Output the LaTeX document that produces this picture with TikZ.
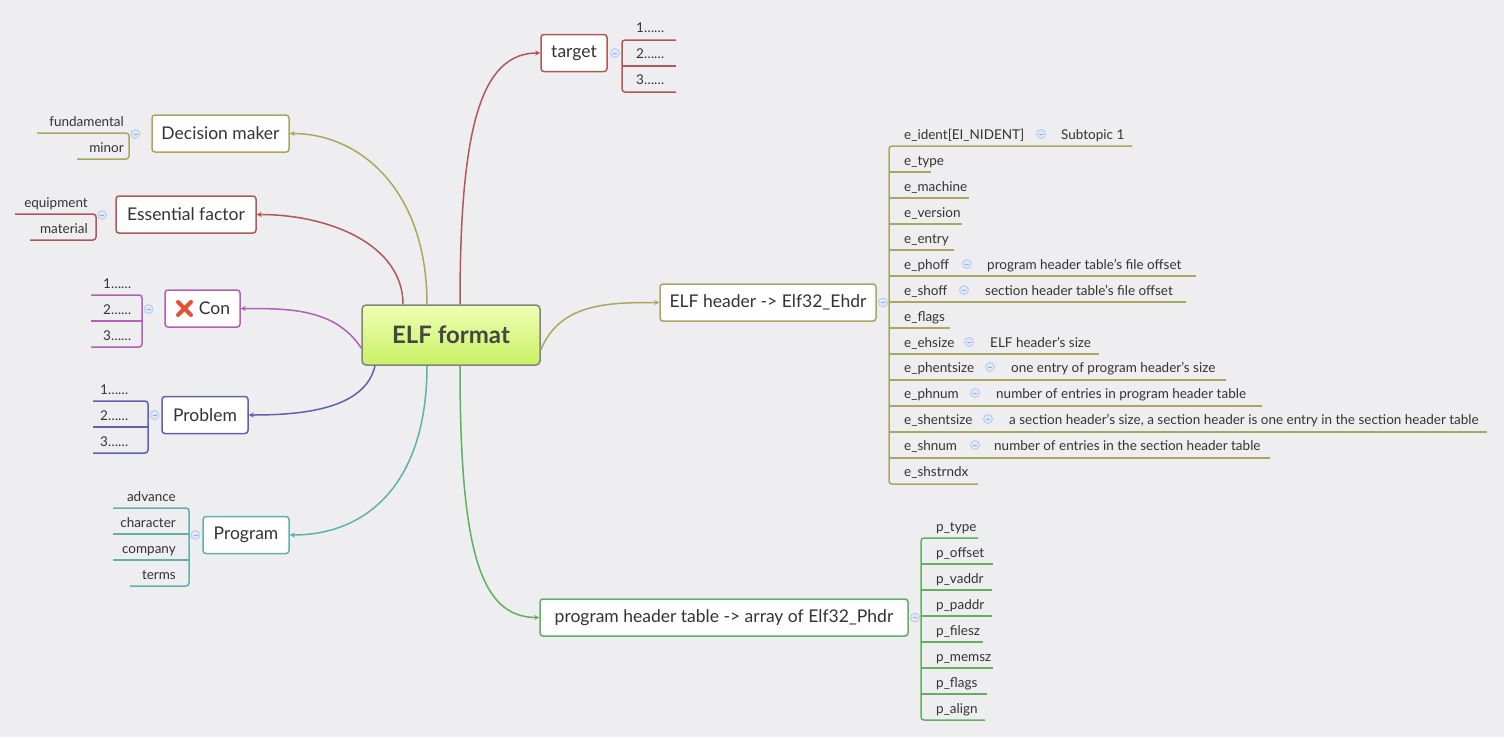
\documentclass[tikz,border=0pt]{standalone}
\usepackage{fontspec}
\setmainfont{Lato}
\usetikzlibrary{arrows.meta}
\definecolor{bg}{HTML}{EEEEF0}
\definecolor{olive}{HTML}{A8A860}
\definecolor{brick}{HTML}{B05858}
\definecolor{purp}{HTML}{B060B8}
\definecolor{blu}{HTML}{6060B0}
\definecolor{teal}{HTML}{60B0B0}
\definecolor{grn}{HTML}{60B060}
\definecolor{txt}{HTML}{333333}
\definecolor{xred}{HTML}{E65032}
\definecolor{foldd}{HTML}{A8C0E8}
\definecolor{foldf}{HTML}{DDE8F8}
\definecolor{foldm}{HTML}{96AADC}
\definecolor{cbord}{HTML}{828282}
\definecolor{ctop}{HTML}{F0FFB4}
\definecolor{cbot}{HTML}{C8F064}
\definecolor{ctxt}{HTML}{464646}
\tikzset{
  topic/.style={draw=#1, line width=1.5pt, rounded corners=3pt, fill=white, minimum height=37pt, inner xsep=0pt, font=\fontsize{17.5}{19}\selectfont, text=txt},
  item/.style={anchor=base west, inner sep=0pt, font=\fontsize{13.5}{15}\selectfont, text=txt},
  conn/.style={draw=#1, line width=1.5pt, -{Stealth[length=5pt,width=5pt]}},
  br/.style={draw=#1, line width=1.5pt, rounded corners=3pt},
  fold/.style={circle, draw=foldd, fill=foldf, line width=0.6pt, minimum size=9pt, inner sep=0pt, path picture={\draw[foldm, line width=0.6pt] ([xshift=-2pt]path picture bounding box.center) -- ([xshift=2pt]path picture bounding box.center);}}
}
\begin{document}
\begin{tikzpicture}[x=1pt,y=-1pt]
\fill[bg] (0,0) rectangle (1504,737);
\useasboundingbox (0,0) rectangle (1504,737);
% central
\node[draw=cbord, line width=1.5pt, rounded corners=4pt, top color=ctop, bottom color=cbot, minimum width=178pt, minimum height=60pt, font=\fontsize{24}{26}\selectfont\bfseries, text=ctxt] (c) at (451,335) {ELF format};
% topics
\node[topic=brick, minimum width=66pt] (t) at (574,53) {target};
\node[topic=olive, minimum width=137pt] (dm) at (220.5,133.5) {Decision maker};
\node[topic=brick, minimum width=140pt] (ef) at (186,214.5) {Essential factor};
\node[topic=purp, minimum width=75pt] (con) at (202.5,308.5) {\hspace{24pt}Con};
\node[topic=blu, minimum width=86pt] (pr) at (205,415) {Problem};
\node[topic=teal, minimum width=86pt] (pg) at (246,535) {Program};
\node[topic=olive, minimum width=216pt] (eh) at (768,302.5) {ELF header -> Elf32\_Ehdr};
\node[topic=grn, minimum width=368pt] (ph) at (724,617.5) {program header table -> array of Elf32\_Phdr};
% X icon
\draw[xred, line width=4pt, line cap=round] (178,302)--(191,315) (191,302)--(178,315);
% connectors
\coordinate (ct) at ([xshift=9pt]c.north);
\coordinate (cdm) at ([xshift=-24pt]c.north);
\coordinate (cef) at ([xshift=-48pt]c.north);
\coordinate (ccon) at ([yshift=-13pt]c.west);
\coordinate (cpr) at ([xshift=-76pt]c.south);
\coordinate (cpg) at ([xshift=-24pt]c.south);
\coordinate (ceh) at ([yshift=-15pt]c.east);
\coordinate (cph) at ([xshift=9pt]c.south);
\draw[conn=brick] (ct) .. controls (460,130) and (480,53) .. (t.west);
\draw[conn=olive] (cdm) .. controls (427,190) and (360,133.5) .. (dm.east);
\draw[conn=brick] (cef) .. controls (403,245) and (330,214.5) .. (ef.east);
\draw[conn=purp] (ccon) .. controls (335,308.5) and (290,308.5) .. (con.east);
\draw[conn=blu] (cpr) .. controls (365,410) and (300,415) .. (pr.east);
\draw[conn=teal] (cpg) .. controls (427,480) and (370,535) .. (pg.east);
\draw[conn=olive] (ceh) .. controls (560,302.5) and (610,302.5) .. (eh.west);
\draw[conn=grn] (cph) .. controls (460,550) and (480,617.5) .. (ph.west);
% target children
\draw[br=brick] (676,40) -- (622,40) -- (622,92) -- (676,92);
\draw[br=brick] (622,66) -- (676,66);
\node[item] (t1) at (636,32) {1……};
\node[item] (t2) at (636,58) {2……};
\node[item] (t3) at (636,84) {3……};
\node[fold] at (615,53) {};
% decision maker children
\draw[br=olive] (37,133) -- (129,133) -- (129,159) -- (77,159);
\node[item, anchor=base east] (d1) at (124,126) {fundamental};
\node[item, anchor=base east] (d2) at (124,152) {minor};
\node[fold] at (135.5,134) {};
% essential
\draw[br=brick] (15,214) -- (96,214) -- (96,240) -- (30,240);
\node[item, anchor=base east] (e1) at (88,207) {equipment};
\node[item, anchor=base east] (e2) at (88,233) {material};
\node[fold] at (102,215) {};
% con
\draw[br=purp] (91,295) -- (142,295) -- (142,347) -- (91,347);
\draw[br=purp] (91,321) -- (142,321);
\node[item] (c1) at (103,288) {1……};
\node[item] (c2) at (103,314) {2……};
\node[item] (c3) at (103,340) {3……};
\node[fold] at (148.5,309) {};
% problem
\draw[br=blu] (93,401) -- (148,401) -- (148,453) -- (93,453);
\draw[br=blu] (93,427) -- (148,427);
\node[item] (p1) at (100,394) {1……};
\node[item] (p2) at (100,420) {2……};
\node[item] (p3) at (100,446) {3……};
\node[fold] at (154.5,415) {};
% program
\draw[br=teal] (113,508) -- (189,508) -- (189,586) -- (130,586);
\draw[br=teal] (113,534) -- (189,534);
\draw[br=teal] (113,560) -- (189,560);
\node[item, anchor=base east] (g1) at (176,501) {advance};
\node[item, anchor=base east] (g2) at (176,527) {character};
\node[item, anchor=base east] (g3) at (176,553) {company};
\node[item, anchor=base east] (g4) at (176,579) {terms};
\node[fold] at (195.5,535) {};
% ELF header children
\draw[br=olive] (1132,146) -- (889,146) -- (889,484) -- (978,484);
\foreach \y/\e in {172/931,198/969,224/962,250/954,276/1196,302/1186,328/950,354/1099,380/1226,406/1262,432/1487,458/1270}
  \draw[olive, line width=1.5pt] (889,\y) -- (\e,\y);
\node[fold] at (883,302.5) {};
\foreach \n/\y/\t in {a/134/{e\_ident[EI\_NIDENT]},b/160/e\_type,cc/186/e\_machine,d/212/e\_version,e/238/e\_entry,f/264/e\_phoff,g/290/e\_shoff,h/316/e\_flags,i/342/e\_ehsize,j/367/e\_phentsize,k/393/e\_phnum,l/419/e\_shentsize,m/445/e\_shnum,n/471/e\_shstrndx}
  \node[item] (eh\n) at (904,\y+5.5) {\t};
\foreach \y/\fx/\tx/\t in {134/1041/1061/{Subtopic 1},264/967/987/{program header table's file offset},290/964/985/{section header table's file offset},342/969/990/{ELF header's size},367/990/1011/{one entry of program header's size},393/975/996/{number of entries in program header table},419/988/1009/{a section header's size, a section header is one entry in the section header table},445/975/994/{number of entries in the section header table}}
  {\node[fold] at (\fx,\y) {}; \node[item] at (\tx,\y+5.5) {\t};}
% program header children
\draw[br=grn] (978,538) -- (921,538) -- (921,720) -- (985,720);
\foreach \y/\e in {564/993,590/992,616/992,642/983,668/993,694/987}
  \draw[grn, line width=1.5pt] (921,\y) -- (\e,\y);
\node[fold] at (915,617.5) {};
\foreach \n/\y/\t in {a/526/p\_type,b/552/p\_offset,cc/578/p\_vaddr,d/604/p\_paddr,e/630/p\_filesz,f/656/p\_memsz,g/682/p\_flags,h/708/p\_align}
  \node[item] (ph\n) at (936,\y+5.5) {\t};
\end{tikzpicture}
\end{document}
